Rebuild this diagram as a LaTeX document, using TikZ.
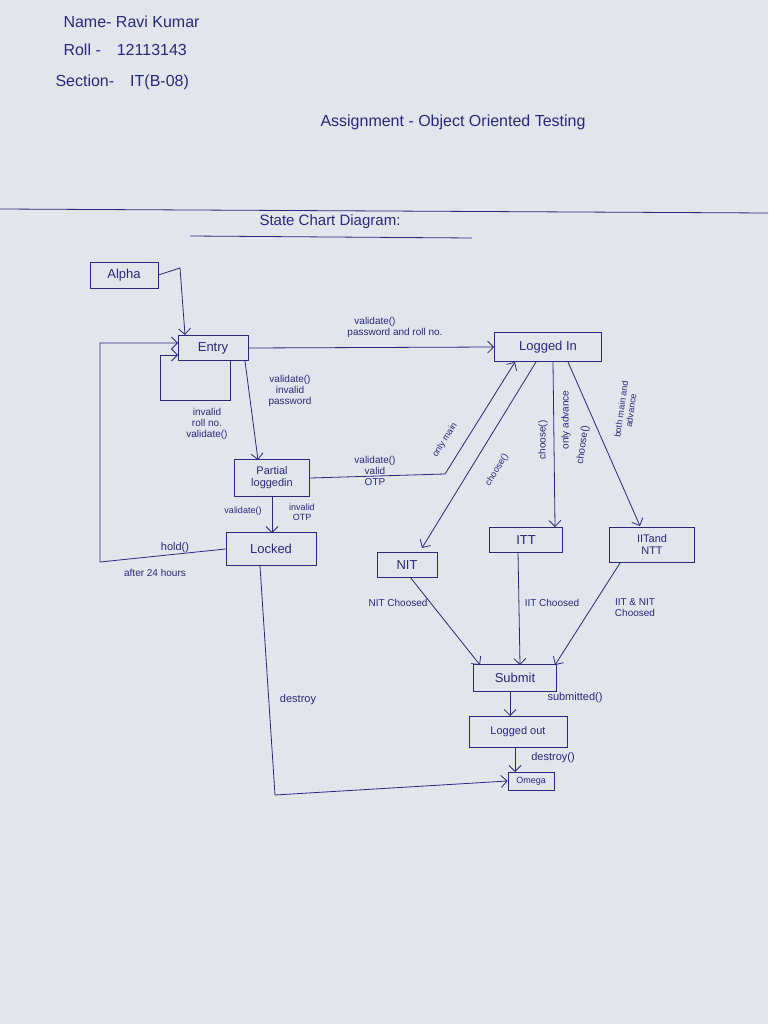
\documentclass[tikz,border=0pt]{standalone}
\usepackage{fontspec}
\setmainfont{Liberation Sans}
\usetikzlibrary{arrows.meta}
\definecolor{ink}{RGB}{40,40,125}
\definecolor{paper}{RGB}{226,229,236}
\begin{document}
\begin{tikzpicture}[x=1pt,y=-1pt,
  st/.style={draw=ink,thick,text=ink,font=\fontsize{13}{14}\selectfont,inner sep=2pt,align=center},
  lbl/.style={text=ink,font=\fontsize{10}{11}\selectfont,align=center,inner sep=1pt},
  hd/.style={text=ink,font=\fontsize{16}{18}\selectfont,anchor=west},
  ar/.style={draw=ink,thick,-{Straight Barb[length=6pt]}},
  ln/.style={draw=ink,thick}]
\fill[paper] (0,0) rectangle (768,1024);
\useasboundingbox (0,0) rectangle (768,1024);
\node[hd] (h1) at (60,22) {Name- Ravi Kumar};
\node[hd] (h2) at (60,50) {Roll -\quad 12113143};
\node[hd] (h3) at (52,82) {Section-\quad IT(B-08)};
\node[text=ink,font=\fontsize{16}{18}\selectfont] (h4) at (453,122) {Assignment - Object Oriented Testing};
\draw[ink,thick] (0,209) -- (768,213);
\node[text=ink,font=\fontsize{15}{17}\selectfont] (ttl) at (330,222) {State Chart Diagram:};
\draw[ink,thick] (190,236) -- (472,238);

\node[st,minimum width=68,minimum height=26] (alpha) at (124,275) {Alpha};
\node[st,minimum width=70,minimum height=25] (entry) at (213,348) {Entry};
\node[st,minimum width=107,minimum height=29] (login) at (548,347) {Logged In};
\node[st,minimum width=75,minimum height=37,font=\fontsize{11}{12}\selectfont] (part) at (272,478) {Partial\\loggedin};
\node[st,minimum width=90,minimum height=33] (locked) at (271,549) {Locked};
\node[st,minimum width=60,minimum height=25] (nit) at (407,565) {NIT};
\node[st,minimum width=73,minimum height=25] (itt) at (526,540) {ITT};
\node[st,minimum width=85,minimum height=35,font=\fontsize{11}{12}\selectfont] (iit) at (652,545) {IITand\\NTT};
\node[st,minimum width=83,minimum height=27] (submit) at (515,678) {Submit};
\node[st,minimum width=98,minimum height=31,font=\fontsize{11}{12}\selectfont] (lout) at (518,732) {Logged out};
\node[st,minimum width=46,minimum height=18,font=\fontsize{9}{10}\selectfont] (omega) at (531,781) {Omega};

\draw[ar] (alpha.east) -- (180,268) -- (185,335);
\coordinate (l1) at (230,400); \coordinate (l2) at (160,400);
\draw[ar] (230,361) -- (l1) -- (l2) -- (160,355) -- (178,355);
\node[lbl] (lb1) at (207,424) {invalid\\roll no.\\validate()};
\draw[ar] (entry.east) -- (login.west);
\node[lbl] (lb2) at (375,327) {validate()\\\hspace*{40pt}password and roll no.};
\draw[ar] (245,361) -- (258,460);
\node[lbl] (lb3) at (290,391) {validate()\\invalid\\password};
\coordinate (pl) at (445,474);
\draw[ar] (part.east) -- (pl) -- (515,362);
\node[lbl] (lb4) at (375,471) {validate()\\valid\\OTP};
\draw[ar] (536,362) -- (422,548);
\node[lbl,rotate=58,font=\fontsize{9}{10}\selectfont] (lb5a) at (445,440) {only main};
\node[lbl,rotate=58,font=\fontsize{9}{10}\selectfont] (lb5b) at (497,470) {choose()};
\draw[ar] (553,362) -- (555,527);
\node[lbl,rotate=90] (lb6a) at (543,440) {choose()};
\node[lbl,rotate=90] (lb6b) at (566,420) {only advance};
\draw[ar] (568,362) -- (640,526);
\node[lbl,rotate=82] (lb7a) at (583,445) {choose()};
\node[lbl,rotate=82,font=\fontsize{9}{10}\selectfont] (lb7b) at (626,410) {both main and\\advance};
\draw[ar] (272,497) -- (272,533);
\node[lbl,font=\fontsize{9}{10}\selectfont] (lb8a) at (243,511) {validate()};
\node[lbl,font=\fontsize{9}{10}\selectfont] (lb8b) at (302,512) {invalid\\OTP};
\coordinate (c1) at (100,562); \coordinate (c2) at (100,343);
\draw[ar] (locked.west) -- (c1) -- (c2) -- (178,343);
\node[lbl,font=\fontsize{11}{12}\selectfont] (lb9) at (175,548) {hold()};
\node[lbl] (lb10) at (155,573) {after 24 hours};
\coordinate (d1) at (275,795);
\draw[ar] (260,566) -- (d1) -- (omega.west);
\node[lbl,font=\fontsize{11}{12}\selectfont] (lb11) at (298,700) {destroy};
\draw[ar] (410,577) -- (480,665);
\node[lbl] (lb12) at (398,603) {NIT Choosed};
\draw[ar] (518,552) -- (520,665);
\node[lbl] (lb13) at (552,603) {IIT Choosed};
\draw[ar] (620,563) -- (555,665);
\node[lbl] (lb14) at (635,608) {IIT \& NIT\\Choosed};
\draw[ar] (510,692) -- (510,716);
\node[lbl,font=\fontsize{11}{12}\selectfont] (lb15) at (575,698) {submitted()};
\draw[ar] (515,748) -- (515,772);
\node[lbl,font=\fontsize{11}{12}\selectfont] (lb16) at (553,758) {destroy()};
\end{tikzpicture}
\end{document}
